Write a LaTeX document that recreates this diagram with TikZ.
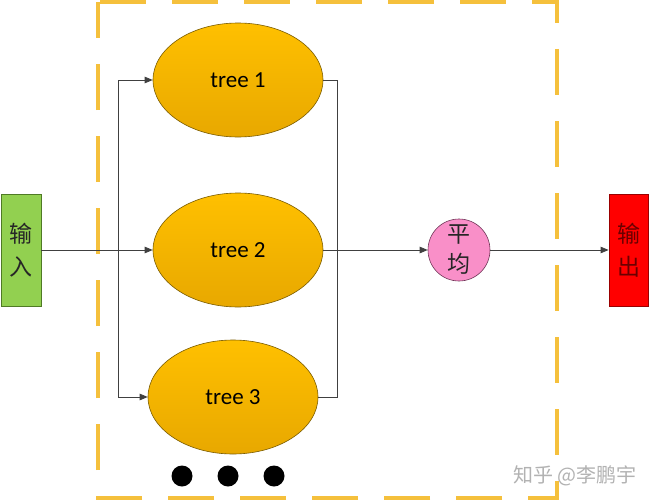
\documentclass[tikz,border=0pt]{standalone}
\usepackage{fontspec}
\setmainfont{Carlito}
\newfontfamily\cjk{Noto Sans CJK SC}
\usetikzlibrary{shapes.geometric,arrows.meta}
\definecolor{dashy}{HTML}{F5C03C}
\definecolor{treetop}{HTML}{FFC000}
\definecolor{treebot}{HTML}{E8A800}
\definecolor{treeline}{HTML}{7A5C00}
\definecolor{inpfill}{HTML}{92D050}
\definecolor{inpline}{HTML}{4F7A25}
\definecolor{outfill}{HTML}{FF0000}
\definecolor{outline}{HTML}{9A0000}
\definecolor{outtext}{HTML}{6A0000}
\definecolor{avgfill}{HTML}{F98FC8}
\definecolor{avgline}{HTML}{6E3556}
\definecolor{connc}{HTML}{404040}
\begin{document}
\begin{tikzpicture}[x=1pt,y=-1pt,
  tree/.style={ellipse, draw=treeline, line width=0.6pt, top color=treetop, bottom color=treebot,
    minimum width=170pt, minimum height=114pt, inner sep=0pt, font=\fontsize{23}{27}\selectfont},
  iobox/.style={rectangle, line width=0.8pt, minimum width=40pt, minimum height=112pt, inner sep=0pt,
    align=center, font=\cjk\fontsize{23}{33}\selectfont},
  conn/.style={draw=connc, line width=0.8pt},
  arr/.style={-{Triangle[length=8pt,width=6.5pt]}},
  dot/.style={circle, fill=black, minimum size=21pt, inner sep=0pt}
]
\useasboundingbox (0,0) rectangle (650,503);
\fill[white] (0,0) rectangle (650,503);
% dashed frame
\draw[dashy, line width=3.5pt, dash pattern=on 46pt off 26pt, dash phase=-2pt]
  (98,2) -- (557,2) -- (557,498) -- (98,498) -- cycle;
% nodes
\node[iobox, fill=inpfill, draw=inpline, text=black!85] (in) at (21,250) {输\\入};
\node[iobox, fill=outfill, draw=outline, text=outtext, minimum width=39pt] (out) at (628.5,250) {输\\出};
\node[tree] (t1) at (238,80) {tree 1};
\node[tree] (t2) at (238,250) {tree 2};
\node[tree] (t3) at (233,397) {tree 3};
\node[circle, fill=avgfill, draw=avgline, line width=0.6pt, minimum size=62pt, inner sep=0pt,
  align=center, font=\cjk\fontsize{23}{30}\selectfont, text=black!85] (avg) at (459,250) {平\\均};
\node[dot] (d1) at (182,476) {};
\node[dot] (d2) at (228,476) {};
\node[dot] (d3) at (274,476) {};
\node[text=black!30, font=\cjk\fontsize{20}{24}\selectfont, inner sep=0pt] (wm) at (575,476) {知乎 @李鹏宇};
% connectors
\coordinate (bx) at (118,250);
\coordinate (mx) at (337,250);
\draw[conn, arr] (in.east) -- (t2.west);
\draw[conn, arr] (bx) |- (t1.west);
\draw[conn, arr] (bx) |- (t3.west);
\draw[conn] (t1.east) -| (mx);
\draw[conn] (t3.east) -| (mx);
\draw[conn, arr] (t2.east) -- (avg.west);
\draw[conn, arr] (avg.east) -- (out.west);
\end{tikzpicture}
\end{document}
